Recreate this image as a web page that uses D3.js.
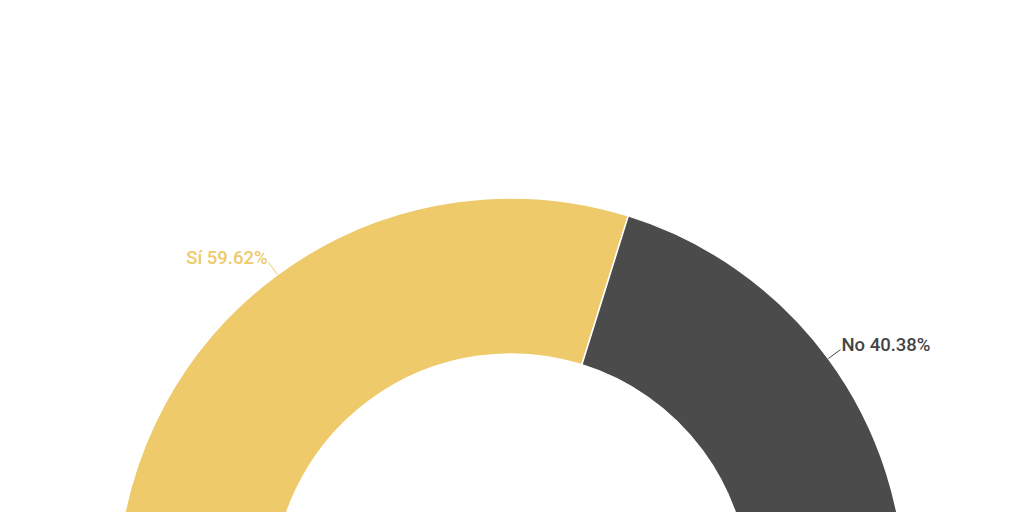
<!DOCTYPE html>
<html>
<head>
<meta charset="utf-8">
<script src="https://cdn.jsdelivr.net/npm/d3@7"></script>
<style>
  body { margin: 0; background: #fff; }
  svg { display: block; font-family: Roboto, "Noto Sans", sans-serif; }
</style>
</head>
<body>
<div id="plot"></div>
<script>
// chart data
const categories = ["Sí", "No"];
const values = [59.62, 40.38];
const colors = ["#EECA6A", "#4B4B4B"];
const labelColors = ["#EECA6A", "#444444"];

const width = 1024;
const height = 512;

const svg = d3.select("#plot").append("svg")
  .attr("width", width)
  .attr("height", height);

// half donut, centre sits below the visible area
const cx = 511, cy = 592;
const outerR = 394, innerR = 238;

const data = categories.map((c, i) => ({ name: c, value: values[i], color: colors[i], labelColor: labelColors[i] }));

const pie = d3.pie()
  .sort(null)
  .value(d => d.value)
  .startAngle(-Math.PI / 2)
  .endAngle(Math.PI / 2);

const arc = d3.arc().innerRadius(innerR).outerRadius(outerR);

const g = svg.append("g").attr("transform", "translate(" + cx + "," + cy + ")");

const arcs = pie(data);

g.selectAll("path")
  .data(arcs)
  .enter().append("path")
  .attr("d", arc)
  .attr("fill", d => d.data.color)
  .attr("stroke", "#fff")
  .attr("stroke-width", 1.5);

// leader lines + labels
const lineLen = 15;
arcs.forEach(d => {
  const a = (d.startAngle + d.endAngle) / 2;
  const sx = Math.sin(a), sy = -Math.cos(a);
  const x0 = sx * outerR, y0 = sy * outerR;
  const x1 = sx * (outerR + lineLen), y1 = sy * (outerR + lineLen);
  g.append("line")
    .attr("x1", x0).attr("y1", y0)
    .attr("x2", x1).attr("y2", y1)
    .attr("stroke", d.data.labelColor)
    .attr("stroke-width", 1);
  g.append("text")
    .attr("x", x1 + (sx < 0 ? -1 : 1))
    .attr("y", y1 + 1)
    .attr("text-anchor", sx < 0 ? "end" : "start")
    .attr("fill", d.data.labelColor)
    .attr("font-size", 18.5)
    .attr("font-weight", 500)
    .text(d.data.name + " " + d.data.value.toFixed(2) + "%");
});
</script>
</body>
</html>
